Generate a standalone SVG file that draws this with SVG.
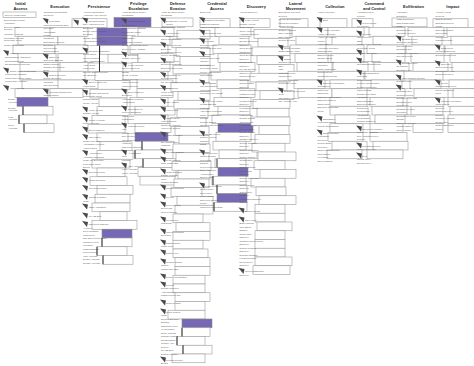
<svg xmlns="http://www.w3.org/2000/svg" xmlns:xlink="http://www.w3.org/1999/xlink" width="474" height="366" viewBox="0 0 474 366">
<style>
.b{fill:#fff;stroke:#9a9a9a;stroke-width:.6}
.p{fill:#7668b5;stroke:#8a8a8a;stroke-width:.6}
.t{font-family:"Liberation Sans",Arial,sans-serif;font-size:2.2px;fill:#555}
.h{font-family:"Liberation Sans",Arial,sans-serif;font-size:4px;font-weight:bold;fill:#222;text-anchor:middle}
.k{stroke:#333;stroke-width:1}
</style>
<defs><path id="tr" d="M0 0L6 1L5 6Z" fill="#4a4a4a"/></defs>
<rect width="474" height="366" fill="#fff"/>

<g id="col-initial-access">
<text class="h"><tspan x="20.5" y="5">Initial</tspan><tspan x="20.5" y="9.5">Access</tspan></text>
<rect class="b" x="3" y="12" width="33" height="5.5"/>
<rect class="b" x="15" y="27.5" width="40" height="8.75"/><rect class="b" x="18" y="36.25" width="40" height="8.75"/><rect class="b" x="13" y="45" width="42" height="8.75"/><rect class="b" x="18" y="53.75" width="38" height="8.75"/><rect class="b" x="20" y="62.5" width="38" height="8.75"/><rect class="b" x="20" y="71.25" width="40" height="8.75"/><rect class="b" x="22" y="80" width="37" height="8.75"/><rect class="b" x="15" y="88.75" width="33" height="8.75"/><rect class="p" x="17" y="97.5" width="31" height="8.75"/><rect class="b" x="23" y="106.25" width="30" height="8.75"/><rect class="b" x="19" y="115" width="28" height="8.75"/><rect class="b" x="24" y="123.75" width="30" height="8.75"/>
<text class="t"><tspan x="5" y="15.6">Drive-by Compromise</tspan><tspan x="4" y="21">Exploit Public-Facing</tspan><tspan x="4" y="23.8">Application</tspan><tspan x="4" y="27.5">External Remote</tspan><tspan x="4" y="30.3">Services</tspan><tspan x="4" y="34.5">Hardware Additions</tspan><tspan x="4" y="38.5">Replication Through</tspan><tspan x="4" y="41.3">Removable Media</tspan><tspan x="4" y="45.5">Trusted Relationship</tspan><tspan x="10" y="54">Phishing</tspan><tspan x="5" y="58">Spearphishing Attachment</tspan><tspan x="5" y="61.5">Spearphishing Link</tspan><tspan x="5" y="65">Spearphishing via Service</tspan><tspan x="10" y="71.5">Supply Chain Compromise</tspan><tspan x="5" y="75">Compromise Software</tspan><tspan x="5" y="78.5">Compromise Supply Chain</tspan><tspan x="5" y="82">Compromise Hardware</tspan><tspan x="10" y="89">Valid Accounts</tspan><tspan x="8" y="100">Default</tspan><tspan x="8" y="102.6">Accounts</tspan><tspan x="8" y="108.7">Domain</tspan><tspan x="8" y="111.3">Accounts</tspan><tspan x="8" y="117.5">Local</tspan><tspan x="8" y="120.1">Accounts</tspan><tspan x="8" y="126.2">Cloud</tspan><tspan x="8" y="128.8">Accounts</tspan></text>
<use href="#tr" x="3" y="50"/><use href="#tr" x="3" y="67.5"/><use href="#tr" x="3" y="85"/>
</g>

<g id="col-execution">
<text class="h"><tspan x="59.8" y="7.5">Execution</tspan></text>
<rect class="b" x="72" y="18.75" width="35" height="8.75"/>
<rect class="b" x="50" y="27.5" width="38" height="8.75"/><rect class="b" x="58" y="36.25" width="27" height="8.75"/><rect class="b" x="55" y="45" width="33" height="8.75"/><rect class="b" x="58" y="53.75" width="27" height="8.75"/><rect class="b" x="60" y="62.5" width="33" height="8.75"/><rect class="b" x="58" y="71.25" width="27" height="8.75"/><rect class="b" x="58" y="80" width="42" height="8.75"/><rect class="b" x="50" y="88.75" width="33" height="8.75"/>
<text class="t"><tspan x="43.5" y="12.5">Command and Scripting</tspan><tspan x="43.5" y="15.5">Interpreter</tspan><tspan x="49" y="22">PowerShell</tspan><tspan x="43.5" y="25.5">Windows Command Shell</tspan><tspan x="43.5" y="29">Unix Shell</tspan><tspan x="43.5" y="32.5">Visual Basic</tspan><tspan x="43.5" y="36">Python</tspan><tspan x="43.5" y="39">JavaScript</tspan><tspan x="43.5" y="42.5">Exploitation for Client</tspan><tspan x="43.5" y="45.5">Execution</tspan><tspan x="43.5" y="49">Inter-Process</tspan><tspan x="43.5" y="52">Communication</tspan><tspan x="49" y="57.5">Native API</tspan><tspan x="43.5" y="61">Scheduled Task/Job</tspan><tspan x="43.5" y="64.5">Shared Modules</tspan><tspan x="43.5" y="68">Software Deployment</tspan><tspan x="43.5" y="71">Tools</tspan><tspan x="49" y="75.5">System Services</tspan><tspan x="43.5" y="79">Service Execution</tspan><tspan x="43.5" y="82.5">Launchctl</tspan><tspan x="43.5" y="86">User Execution</tspan><tspan x="49" y="92.5">Windows Management</tspan><tspan x="43.5" y="95.5">Instrumentation</tspan></text>
<use href="#tr" x="42.5" y="18"/><use href="#tr" x="42.5" y="53.5"/><use href="#tr" x="42.5" y="71.5"/><use href="#tr" x="42.5" y="88.5"/><use href="#tr" x="73" y="19.5"/>
</g>

<g id="col-persistence">
<text class="h"><tspan x="99" y="7.5">Persistence</tspan></text>
<rect class="p" x="97" y="28" width="30" height="8.75"/><rect class="p" x="97" y="36.75" width="30" height="8.75"/><rect class="b" x="100" y="45.5" width="28" height="8.75"/><rect class="b" x="108" y="54.25" width="30" height="8.75"/><rect class="b" x="88" y="63" width="35" height="8.75"/><rect class="b" x="95" y="71.75" width="33" height="8.75"/><rect class="b" x="98" y="80.5" width="32" height="8.75"/><rect class="b" x="90" y="89.25" width="37" height="8.75"/><rect class="b" x="99" y="98" width="28" height="8.75"/><rect class="b" x="97" y="106.75" width="33" height="8.75"/><rect class="b" x="92" y="115.5" width="33" height="8.75"/><rect class="b" x="88" y="124.25" width="37" height="8.75"/><rect class="b" x="97" y="133" width="31" height="8.75"/><rect class="b" x="100" y="141.75" width="32" height="8.75"/><rect class="b" x="97" y="150.5" width="36" height="8.75"/><rect class="b" x="92" y="159.25" width="38" height="8.75"/><rect class="b" x="97" y="168" width="28" height="8.75"/><rect class="b" x="90" y="176.75" width="37" height="8.75"/><rect class="b" x="97" y="185.5" width="36" height="8.75"/><rect class="b" x="95" y="194.25" width="35" height="8.75"/><rect class="b" x="92" y="203" width="38" height="8.75"/><rect class="b" x="100" y="211.75" width="27" height="8.75"/><rect class="b" x="92" y="220.5" width="45" height="8.75"/><rect class="p" x="102" y="229.25" width="30" height="8.75"/><rect class="b" x="102" y="238" width="30" height="8.75"/><rect class="b" x="97" y="246.75" width="30" height="8.75"/><rect class="b" x="103" y="255.5" width="30" height="8.75"/>
<text class="t"><tspan x="83" y="12.5">Account Manipulation</tspan><tspan x="83" y="15.5">Additional Azure Service</tspan><tspan x="89" y="21.5">Exchange Email</tspan><tspan x="83" y="25">SSH Authorized Keys</tspan><tspan x="83" y="28.5">BITS Jobs</tspan><tspan x="83" y="32">Boot or Logon Autostart</tspan><tspan x="83" y="35">Execution</tspan><tspan x="83" y="38.5">Registry Run Keys</tspan><tspan x="83" y="42">Authentication Package</tspan><tspan x="83" y="45.5">Kernel Modules</tspan><tspan x="89" y="51.5">Shortcut Modification</tspan><tspan x="83" y="55">Port Monitors</tspan><tspan x="83" y="58.5">Print Processors</tspan><tspan x="83" y="62">XDG Autostart Entries</tspan><tspan x="83" y="65.5">Active Setup</tspan><tspan x="83" y="69">Login Items</tspan><tspan x="83" y="72.5">Security Support Provider</tspan><tspan x="83" y="76">LSASS Driver</tspan><tspan x="89" y="83">Boot or Logon Init</tspan><tspan x="83" y="86.5">Logon Script</tspan><tspan x="89" y="93.5">Browser Extensions</tspan><tspan x="83" y="97">Compromise Client</tspan><tspan x="83" y="100">Software Binary</tspan><tspan x="83" y="103.5">Create Account</tspan><tspan x="89" y="110.5">Local Account</tspan><tspan x="83" y="114">Domain Account</tspan><tspan x="89" y="120.5">Create or Modify</tspan><tspan x="83" y="124">System Process</tspan><tspan x="89" y="130.5">Event Triggered</tspan><tspan x="89" y="138">Screensaver</tspan><tspan x="83" y="141.5">Netsh Helper DLL</tspan><tspan x="83" y="145">Accessibility Features</tspan><tspan x="83" y="148.5">AppCert DLLs</tspan><tspan x="89" y="154">AppInit DLLs</tspan><tspan x="83" y="157.5">Application Shimming</tspan><tspan x="83" y="161">Image File Execution</tspan><tspan x="83" y="164.5">PowerShell Profile</tspan><tspan x="83" y="168">Emond</tspan><tspan x="89" y="173">External Remote</tspan><tspan x="89" y="181">Hijack Execution</tspan><tspan x="89" y="189">DLL Search Order</tspan><tspan x="89" y="198">Implant Container</tspan><tspan x="83" y="201.5">Image</tspan><tspan x="89" y="207.5">Office Application</tspan><tspan x="89" y="216.5">Pre-OS Boot</tspan><tspan x="89" y="225">Scheduled Task/Job</tspan><tspan x="83" y="228.5">At (Linux)</tspan><tspan x="83" y="232">Server Software</tspan><tspan x="83" y="235.5">Component</tspan><tspan x="83" y="239">SQL Stored Procedures</tspan><tspan x="83" y="242.5">Transport Agent</tspan><tspan x="83" y="246">Web Shell</tspan><tspan x="83" y="249.5">Traffic Signaling</tspan><tspan x="83" y="253">Port Knocking</tspan><tspan x="83" y="256.5">Valid Accounts</tspan><tspan x="83" y="260">Default Accounts</tspan><tspan x="83" y="263.5">Domain Accounts</tspan></text>
<use href="#tr" x="82" y="17.5"/><use href="#tr" x="82" y="47.5"/><use href="#tr" x="82" y="79"/><use href="#tr" x="82" y="89.5"/><use href="#tr" x="82" y="106.5"/><use href="#tr" x="82" y="116.5"/><use href="#tr" x="82" y="126.5"/><use href="#tr" x="82" y="134"/><use href="#tr" x="82" y="150"/><use href="#tr" x="82" y="169"/><use href="#tr" x="82" y="177"/><use href="#tr" x="82" y="185"/><use href="#tr" x="82" y="194"/><use href="#tr" x="82" y="203.5"/><use href="#tr" x="82" y="212.5"/><use href="#tr" x="82" y="221"/>
</g>

<g id="col-privilege-escalation">
<text class="h"><tspan x="138.4" y="5">Privilege</tspan><tspan x="138.4" y="9.5">Escalation</tspan></text>
<rect class="p" x="114" y="17.5" width="37" height="9.5"/>
<rect class="b" x="138" y="27.5" width="36" height="8.75"/><rect class="b" x="132" y="36.25" width="38" height="8.75"/><rect class="b" x="130" y="45" width="38" height="8.75"/><rect class="b" x="138" y="53.75" width="36" height="8.75"/><rect class="b" x="132" y="62.5" width="38" height="8.75"/><rect class="b" x="123" y="71.25" width="45" height="8.75"/><rect class="b" x="137" y="80" width="36" height="8.75"/><rect class="b" x="137" y="88.75" width="36" height="8.75"/><rect class="b" x="130" y="97.5" width="38" height="8.75"/><rect class="b" x="135" y="106.25" width="40" height="8.75"/><rect class="b" x="128" y="115" width="40" height="8.75"/><rect class="b" x="135" y="123.75" width="36" height="8.75"/><rect class="p" x="135" y="132.5" width="33" height="8.75"/><rect class="b" x="142" y="141.25" width="32" height="8.75"/><rect class="b" x="135" y="150" width="38" height="8.75"/><rect class="b" x="143" y="158.75" width="33" height="8.75"/><rect class="b" x="138" y="167.5" width="38" height="8.75"/><rect class="b" x="140" y="176.25" width="35" height="8.75"/>
<text class="t"><tspan x="122" y="12.5">Abuse Elevation Control</tspan><tspan x="122" y="15.5">Mechanism</tspan><tspan x="128" y="22">Setuid and Setgid</tspan><tspan x="122" y="25.5">Bypass UAC</tspan><tspan x="122" y="29">Sudo and Sudo Caching</tspan><tspan x="122" y="32.5">Elevated Execution</tspan><tspan x="122" y="36">Access Token</tspan><tspan x="122" y="39">Manipulation</tspan><tspan x="122" y="42.5">Token Impersonation</tspan><tspan x="122" y="46">Create Process with Token</tspan><tspan x="122" y="49.5">Boot or Logon Autostart</tspan><tspan x="128" y="55.5">Execution</tspan><tspan x="122" y="59">Registry Run Keys</tspan><tspan x="128" y="65.5">Kernel Modules</tspan><tspan x="122" y="69">Boot or Logon Init</tspan><tspan x="122" y="72.5">Scripts</tspan><tspan x="122" y="76">Create or Modify</tspan><tspan x="122" y="79.5">System Process</tspan><tspan x="122" y="83">Windows Service</tspan><tspan x="122" y="86.5">Launch Daemon</tspan><tspan x="128" y="92.5">Event Triggered</tspan><tspan x="122" y="96">Execution</tspan><tspan x="122" y="99.5">Accessibility Features</tspan><tspan x="122" y="103">AppInit DLLs</tspan><tspan x="128" y="109.5">Exploitation for</tspan><tspan x="122" y="113">Privilege Escalation</tspan><tspan x="122" y="116.5">Group Policy</tspan><tspan x="122" y="120">Modification</tspan><tspan x="128" y="126.5">Hijack Execution</tspan><tspan x="122" y="130">Flow</tspan><tspan x="122" y="133.5">Process Injection</tspan><tspan x="122" y="137">DLL Injection</tspan><tspan x="122" y="140.5">Thread Execution</tspan><tspan x="122" y="144">Hijacking</tspan><tspan x="122" y="147.5">Scheduled Task/Job</tspan><tspan x="128" y="153.5">At (Windows)</tspan><tspan x="122" y="157">Cron</tspan><tspan x="122" y="160.5">Launchd</tspan><tspan x="128" y="166.5">Valid Accounts</tspan><tspan x="122" y="170">Local Accounts</tspan><tspan x="122" y="173.5">Cloud Accounts</tspan></text>
<use href="#tr" x="121" y="18"/><use href="#tr" x="121" y="51.5"/><use href="#tr" x="121" y="61.5"/><use href="#tr" x="121" y="88.5"/><use href="#tr" x="121" y="105.5"/><use href="#tr" x="121" y="122.5"/><use href="#tr" x="121" y="149.5"/><use href="#tr" x="121" y="162.5"/>
</g>

<g id="col-defense-evasion">
<text class="h"><tspan x="177.7" y="5">Defense</tspan><tspan x="177.7" y="9.5">Evasion</tspan></text>
<rect class="b" x="162" y="18" width="31" height="8.75"/>
<rect class="b" x="177" y="30.25" width="33" height="8.75"/><rect class="b" x="172" y="39" width="36" height="8.75"/><rect class="b" x="176" y="47.75" width="34" height="8.75"/><rect class="b" x="180" y="56.5" width="30" height="8.75"/><rect class="b" x="173" y="65.25" width="37" height="8.75"/><rect class="b" x="176" y="74" width="33" height="8.75"/><rect class="b" x="171" y="82.75" width="39" height="8.75"/><rect class="b" x="178" y="91.5" width="32" height="8.75"/><rect class="b" x="174" y="100.25" width="35" height="8.75"/><rect class="b" x="177" y="109" width="31" height="8.75"/><rect class="b" x="170" y="117.75" width="36" height="8.75"/><rect class="b" x="175" y="126.5" width="34" height="8.75"/><rect class="b" x="179" y="135.25" width="30" height="8.75"/><rect class="b" x="173" y="144" width="37" height="8.75"/><rect class="b" x="176" y="152.75" width="33" height="8.75"/><rect class="b" x="172" y="161.5" width="39" height="8.75"/><rect class="b" x="178" y="170.25" width="32" height="8.75"/><rect class="b" x="174" y="179" width="35" height="8.75"/><rect class="b" x="171" y="187.75" width="31" height="8.75"/><rect class="b" x="177" y="196.5" width="36" height="8.75"/><rect class="b" x="175" y="205.25" width="38" height="8.75"/><rect class="b" x="173" y="214" width="30" height="8.75"/><rect class="b" x="176" y="222.75" width="34" height="8.75"/><rect class="b" x="173" y="231.5" width="37" height="8.75"/><rect class="b" x="173" y="240.25" width="30" height="8.75"/><rect class="b" x="173" y="249" width="35" height="8.75"/><rect class="b" x="175" y="257.75" width="35" height="8.75"/><rect class="b" x="175" y="266.5" width="35" height="8.75"/><rect class="b" x="173" y="275.25" width="32" height="8.75"/><rect class="b" x="173" y="284" width="32" height="8.75"/><rect class="b" x="175" y="292.75" width="35" height="8.75"/><rect class="b" x="175" y="301.5" width="30" height="8.75"/><rect class="b" x="168" y="310.25" width="37" height="8.75"/><rect class="p" x="182" y="319" width="30" height="8.75"/><rect class="b" x="182" y="327.75" width="28" height="8.75"/><rect class="b" x="177" y="336.5" width="28" height="8.75"/><rect class="b" x="183" y="345.25" width="29" height="8.75"/><rect class="b" x="172" y="354" width="33" height="8.75"/>
<text class="t"><tspan x="161" y="13">Abuse Elevation Control</tspan><tspan x="161" y="16">Mechanism</tspan><tspan x="166" y="21.5">Bypass User Account</tspan><tspan x="166" y="24.5">Control</tspan><tspan x="161" y="28">Sudo and Sudo Caching</tspan><tspan x="166" y="33.5">Access Token</tspan><tspan x="166" y="36.5">Manipulation</tspan><tspan x="161" y="40">Token Impersonation</tspan><tspan x="166" y="46">Create Process</tspan><tspan x="161" y="49.5">BITS Jobs</tspan><tspan x="161" y="53">Deobfuscate/Decode</tspan><tspan x="161" y="56">Files or Information</tspan><tspan x="166" y="61.5">Direct Volume</tspan><tspan x="161" y="65">Execution Guardrails</tspan><tspan x="161" y="68.5">Environmental Keying</tspan><tspan x="166" y="76">Exploitation for</tspan><tspan x="161" y="79">Defense Evasion</tspan><tspan x="161" y="82.5">File and Directory</tspan><tspan x="166" y="89">Permissions</tspan><tspan x="161" y="92.5">Group Policy</tspan><tspan x="161" y="95.5">Modification</tspan><tspan x="166" y="102.5">Hide Artifacts</tspan><tspan x="166" y="110.5">Hidden Files</tspan><tspan x="166" y="118.5">Hidden Users</tspan><tspan x="161" y="122">Hidden Window</tspan><tspan x="161" y="125.5">NTFS File Attributes</tspan><tspan x="161" y="129">Hidden File System</tspan><tspan x="166" y="135.5">Hijack Execution</tspan><tspan x="161" y="139">Flow</tspan><tspan x="161" y="142.5">DLL Search Order</tspan><tspan x="161" y="146">Hijacking</tspan><tspan x="166" y="152.5">DLL Side-Loading</tspan><tspan x="166" y="160.5">Dylib Hijacking</tspan><tspan x="161" y="164">COR_PROFILER</tspan><tspan x="166" y="172.5">Impair Defenses</tspan><tspan x="161" y="176">Disable or Modify</tspan><tspan x="161" y="179.5">Tools</tspan><tspan x="161" y="183">Indicator Blocking</tspan><tspan x="166" y="188.5">Indicator Removal</tspan><tspan x="166" y="197.5">on Host</tspan><tspan x="166" y="205.5">Clear Windows</tspan><tspan x="161" y="209">Event Logs</tspan><tspan x="161" y="212.5">Clear Command</tspan><tspan x="166" y="220.5">File Deletion</tspan><tspan x="161" y="224">Timestomp</tspan><tspan x="166" y="232.5">Indirect Command</tspan><tspan x="161" y="236">Execution</tspan><tspan x="166" y="243.5">Masquerading</tspan><tspan x="161" y="247">Invalid Code</tspan><tspan x="166" y="253.5">Right-to-Left</tspan><tspan x="166" y="262.5">Rename System</tspan><tspan x="161" y="266">Utilities</tspan><tspan x="161" y="269.5">Masquerade Task</tspan><tspan x="166" y="277.5">Modify Authentication</tspan><tspan x="166" y="285.5">Process</tspan><tspan x="161" y="289">Domain Controller</tspan><tspan x="161" y="292.5">Authentication</tspan><tspan x="161" y="296">Password Filter DLL</tspan><tspan x="166" y="303.5">Modify Registry</tspan><tspan x="166" y="312.5">Modify System</tspan><tspan x="161" y="316">Image</tspan><tspan x="161" y="319.5">Network Boundary</tspan><tspan x="161" y="323">Bridging</tspan><tspan x="161" y="326.5">Obfuscated Files</tspan><tspan x="161" y="330">or Information</tspan><tspan x="161" y="333.5">Binary Padding</tspan><tspan x="161" y="337">Software Packing</tspan><tspan x="161" y="340.5">Steganography</tspan><tspan x="161" y="344">Compile After</tspan><tspan x="161" y="347.5">Delivery</tspan><tspan x="161" y="351">Pre-OS Boot</tspan><tspan x="161" y="354.5">System Firmware</tspan><tspan x="166" y="360.5">Process Injection</tspan><tspan x="161" y="364">Bootkit</tspan></text>
<use href="#tr" x="160" y="17.5"/><use href="#tr" x="160" y="29.5"/><use href="#tr" x="160" y="42"/><use href="#tr" x="160" y="57.5"/><use href="#tr" x="160" y="72"/><use href="#tr" x="160" y="85"/><use href="#tr" x="160" y="98.5"/><use href="#tr" x="160" y="106.5"/><use href="#tr" x="160" y="114.5"/><use href="#tr" x="160" y="131.5"/><use href="#tr" x="160" y="148.5"/><use href="#tr" x="160" y="156.5"/><use href="#tr" x="160" y="168.5"/><use href="#tr" x="160" y="184.5"/><use href="#tr" x="160" y="193.5"/><use href="#tr" x="160" y="201.5"/><use href="#tr" x="160" y="216.5"/><use href="#tr" x="160" y="228.5"/><use href="#tr" x="160" y="239.5"/><use href="#tr" x="160" y="249.5"/><use href="#tr" x="160" y="258.5"/><use href="#tr" x="160" y="273.5"/><use href="#tr" x="160" y="281.5"/><use href="#tr" x="160" y="299.5"/><use href="#tr" x="160" y="308.5"/><use href="#tr" x="160" y="356.5"/>
</g>

<g id="col-credential-access">
<text class="h"><tspan x="217" y="5">Credential</tspan><tspan x="217" y="9.5">Access</tspan></text>
<rect class="b" x="200" y="18.75" width="30" height="8.75"/>
<rect class="b" x="215" y="27.5" width="36" height="8.75"/><rect class="b" x="219" y="36.25" width="30" height="8.75"/><rect class="b" x="213" y="45" width="38" height="8.75"/><rect class="b" x="218" y="53.75" width="33" height="8.75"/><rect class="b" x="220" y="62.5" width="35" height="8.75"/><rect class="b" x="211" y="71.25" width="40" height="8.75"/><rect class="b" x="217" y="80" width="31" height="8.75"/><rect class="b" x="221" y="88.75" width="34" height="8.75"/><rect class="b" x="214" y="97.5" width="37" height="8.75"/><rect class="b" x="218" y="106.25" width="32" height="8.75"/><rect class="b" x="212" y="115" width="39" height="8.75"/><rect class="p" x="218" y="123.75" width="35" height="8.75"/><rect class="b" x="216" y="132.5" width="35" height="8.75"/><rect class="b" x="213" y="141.25" width="33" height="8.75"/><rect class="b" x="219" y="150" width="38" height="8.75"/><rect class="b" x="215" y="158.75" width="31" height="8.75"/><rect class="p" x="218" y="167.5" width="30" height="8.75"/><rect class="b" x="212" y="176.25" width="34" height="8.75"/><rect class="b" x="217" y="185" width="30" height="8.75"/><rect class="p" x="217" y="193.75" width="30" height="8.75"/><rect class="b" x="214" y="202.5" width="33" height="8.75"/>
<text class="t"><tspan x="200" y="13">Brute Force</tspan><tspan x="205" y="21">Password Guessing</tspan><tspan x="200" y="24.5">Password Cracking</tspan><tspan x="200" y="28">Password Spraying</tspan><tspan x="205" y="33.5">Credentials from</tspan><tspan x="200" y="37">Password Stores</tspan><tspan x="205" y="42">Keychain</tspan><tspan x="200" y="45.5">Securityd Memory</tspan><tspan x="200" y="49">Credentials from Web</tspan><tspan x="205" y="55">Browsers</tspan><tspan x="200" y="58.5">Windows Credential</tspan><tspan x="200" y="62">Manager</tspan><tspan x="200" y="65.5">Exploitation for</tspan><tspan x="200" y="69">Credential Access</tspan><tspan x="200" y="72.5">Forced Authentication</tspan><tspan x="200" y="76">Input Capture</tspan><tspan x="205" y="83.5">Keylogging</tspan><tspan x="200" y="87">GUI Input Capture</tspan><tspan x="200" y="90.5">Web Portal Capture</tspan><tspan x="200" y="94">Credential API Hooking</tspan><tspan x="205" y="101.5">Man-in-the-Middle</tspan><tspan x="200" y="105">LLMNR/NBT-NS</tspan><tspan x="200" y="108.5">Poisoning</tspan><tspan x="200" y="112">ARP Cache Poisoning</tspan><tspan x="200" y="115.5">Modify Authentication</tspan><tspan x="200" y="119">Process</tspan><tspan x="200" y="122.5">Network Sniffing</tspan><tspan x="200" y="126">OS Credential Dumping</tspan><tspan x="205" y="134.5">LSASS Memory</tspan><tspan x="200" y="138">Security Account</tspan><tspan x="200" y="141.5">Manager</tspan><tspan x="200" y="145">NTDS</tspan><tspan x="205" y="153.5">LSA Secrets</tspan><tspan x="200" y="157">Cached Domain</tspan><tspan x="200" y="160.5">Credentials</tspan><tspan x="200" y="164">DCSync</tspan><tspan x="200" y="167.5">Proc Filesystem</tspan><tspan x="200" y="171">Steal Application</tspan><tspan x="200" y="174.5">Access Token</tspan><tspan x="200" y="178">Steal or Forge</tspan><tspan x="205" y="186.5">Kerberos Tickets</tspan><tspan x="200" y="190">Golden Ticket</tspan><tspan x="200" y="193.5">Silver Ticket</tspan><tspan x="200" y="197">Kerberoasting</tspan><tspan x="200" y="200.5">Steal Web Session</tspan><tspan x="200" y="204">Cookie</tspan><tspan x="200" y="207.5">Unsecured Credentials</tspan></text>
<use href="#tr" x="199" y="17"/><use href="#tr" x="199" y="29.5"/><use href="#tr" x="199" y="38"/><use href="#tr" x="199" y="51"/><use href="#tr" x="199" y="79.5"/><use href="#tr" x="199" y="97.5"/><use href="#tr" x="199" y="130.5"/><use href="#tr" x="199" y="149.5"/><use href="#tr" x="199" y="182.5"/>
</g>

<g id="col-discovery">
<text class="h"><tspan x="256.3" y="7.5">Discovery</tspan></text>
<rect class="b" x="240" y="18.75" width="30" height="8.75"/>
<rect class="b" x="254" y="29.5" width="36" height="8.75"/><rect class="b" x="258" y="38.25" width="30" height="8.75"/><rect class="b" x="252" y="47" width="38" height="8.75"/><rect class="b" x="257" y="55.75" width="33" height="8.75"/><rect class="b" x="259" y="64.5" width="35" height="8.75"/><rect class="b" x="250" y="73.25" width="40" height="8.75"/><rect class="b" x="256" y="82" width="31" height="8.75"/><rect class="b" x="260" y="90.75" width="34" height="8.75"/><rect class="b" x="253" y="99.5" width="37" height="8.75"/><rect class="b" x="257" y="108.25" width="32" height="8.75"/><rect class="b" x="251" y="117" width="39" height="8.75"/><rect class="b" x="259" y="125.75" width="30" height="8.75"/><rect class="b" x="255" y="134.5" width="35" height="8.75"/><rect class="b" x="252" y="143.25" width="33" height="8.75"/><rect class="b" x="258" y="152" width="38" height="8.75"/><rect class="b" x="254" y="160.75" width="31" height="8.75"/><rect class="b" x="260" y="169.5" width="36" height="8.75"/><rect class="b" x="251" y="178.25" width="34" height="8.75"/><rect class="b" x="256" y="187" width="30" height="8.75"/><rect class="b" x="259" y="195.75" width="37" height="8.75"/><rect class="b" x="255" y="204.5" width="30" height="8.75"/><rect class="b" x="255" y="213.25" width="30" height="8.75"/><rect class="b" x="257" y="222" width="35" height="8.75"/><rect class="b" x="255" y="230.75" width="30" height="8.75"/><rect class="b" x="255" y="239.5" width="30" height="8.75"/><rect class="b" x="255" y="248.25" width="30" height="8.75"/><rect class="b" x="255" y="257" width="37" height="8.75"/><rect class="b" x="253" y="265.75" width="37" height="8.75"/>
<text class="t"><tspan x="239.5" y="13">Account Discovery</tspan><tspan x="245" y="21">Local Account</tspan><tspan x="239.5" y="24.5">Domain Account</tspan><tspan x="239.5" y="28">Email Account</tspan><tspan x="239.5" y="31.5">Cloud Account</tspan><tspan x="239.5" y="35">Application Window</tspan><tspan x="239.5" y="38.5">Discovery</tspan><tspan x="239.5" y="42">Browser Bookmark</tspan><tspan x="239.5" y="45.5">Discovery</tspan><tspan x="239.5" y="49">Cloud Service</tspan><tspan x="239.5" y="52.5">Dashboard</tspan><tspan x="239.5" y="56">Cloud Service</tspan><tspan x="239.5" y="59.5">Discovery</tspan><tspan x="239.5" y="63">Domain Trust</tspan><tspan x="239.5" y="66.5">Discovery</tspan><tspan x="239.5" y="70">File and Directory</tspan><tspan x="239.5" y="73.5">Discovery</tspan><tspan x="239.5" y="77">Network Service</tspan><tspan x="239.5" y="80.5">Scanning</tspan><tspan x="239.5" y="84">Network Share</tspan><tspan x="239.5" y="87.5">Discovery</tspan><tspan x="239.5" y="91">Network Sniffing</tspan><tspan x="239.5" y="94.5">Password Policy</tspan><tspan x="239.5" y="98">Discovery</tspan><tspan x="239.5" y="101.5">Peripheral Device</tspan><tspan x="239.5" y="105">Discovery</tspan><tspan x="239.5" y="108.5">Permission Groups</tspan><tspan x="239.5" y="112">Discovery</tspan><tspan x="239.5" y="115.5">Local Groups</tspan><tspan x="239.5" y="119">Domain Groups</tspan><tspan x="239.5" y="122.5">Cloud Groups</tspan><tspan x="239.5" y="126">Process Discovery</tspan><tspan x="239.5" y="129.5">Query Registry</tspan><tspan x="239.5" y="133">Remote System</tspan><tspan x="239.5" y="136.5">Discovery</tspan><tspan x="239.5" y="140">Software Discovery</tspan><tspan x="239.5" y="143.5">Security Software</tspan><tspan x="239.5" y="147">Discovery</tspan><tspan x="239.5" y="150.5">System Information</tspan><tspan x="239.5" y="154">Discovery</tspan><tspan x="239.5" y="157.5">System Network</tspan><tspan x="239.5" y="161">Configuration</tspan><tspan x="239.5" y="164.5">Discovery</tspan><tspan x="239.5" y="168">System Network</tspan><tspan x="239.5" y="171.5">Connections</tspan><tspan x="239.5" y="175">Discovery</tspan><tspan x="239.5" y="178.5">System Owner/User</tspan><tspan x="239.5" y="182">Discovery</tspan><tspan x="239.5" y="185.5">System Service</tspan><tspan x="239.5" y="189">Discovery</tspan><tspan x="239.5" y="192.5">System Time</tspan><tspan x="239.5" y="196">Discovery</tspan><tspan x="239.5" y="199.5">Virtualization/Sandbox</tspan><tspan x="239.5" y="203">Evasion</tspan><tspan x="245" y="211.5">System Checks</tspan><tspan x="245" y="220.5">User Activity</tspan><tspan x="239.5" y="224">Based Checks</tspan><tspan x="239.5" y="227.5">Time Based</tspan><tspan x="239.5" y="231">Evasion</tspan><tspan x="239.5" y="234.5">Group Policy</tspan><tspan x="239.5" y="238">Discovery</tspan><tspan x="239.5" y="241.5">Container and Resource</tspan><tspan x="239.5" y="245">Discovery</tspan><tspan x="239.5" y="248.5">System Location</tspan><tspan x="239.5" y="252">Discovery</tspan><tspan x="239.5" y="255.5">Debugger Evasion</tspan><tspan x="239.5" y="259">Log Enumeration</tspan><tspan x="239.5" y="262.5">Device Driver</tspan><tspan x="239.5" y="266">Discovery</tspan><tspan x="245" y="272">Cloud Infrastructure</tspan><tspan x="239.5" y="275.5">Discovery</tspan></text>
<use href="#tr" x="238.5" y="17"/><use href="#tr" x="238.5" y="207.5"/><use href="#tr" x="238.5" y="216.5"/><use href="#tr" x="238.5" y="268"/>
</g>

<g id="col-lateral-movement">
<text class="h"><tspan x="295.6" y="5">Lateral</tspan><tspan x="295.6" y="9.5">Movement</tspan></text>
<rect class="b" x="280" y="18.75" width="28" height="8.75"/>
<rect class="b" x="292" y="27.5" width="36" height="8.75"/><rect class="b" x="296" y="36.25" width="30" height="8.75"/><rect class="b" x="290" y="45" width="38" height="8.75"/><rect class="b" x="295" y="53.75" width="33" height="8.75"/><rect class="b" x="297" y="62.5" width="35" height="8.75"/><rect class="b" x="288" y="71.25" width="40" height="8.75"/><rect class="b" x="294" y="80" width="31" height="8.75"/><rect class="b" x="298" y="88.75" width="34" height="8.75"/>
<text class="t"><tspan x="278.5" y="13">Exploitation of Remote</tspan><tspan x="278.5" y="16.5">Services</tspan><tspan x="278.5" y="20">Internal Spearphishing</tspan><tspan x="278.5" y="23.5">Lateral Tool Transfer</tspan><tspan x="278.5" y="27">Remote Service</tspan><tspan x="278.5" y="30.5">Session Hijacking</tspan><tspan x="278.5" y="34">SSH Hijacking</tspan><tspan x="278.5" y="37.5">RDP Hijacking</tspan><tspan x="278.5" y="41">Remote Services</tspan><tspan x="284" y="48.5">Remote Desktop</tspan><tspan x="278.5" y="52">SMB/Windows Admin</tspan><tspan x="284" y="59.5">Shares</tspan><tspan x="278.5" y="63">Distributed COM</tspan><tspan x="278.5" y="66.5">SSH</tspan><tspan x="278.5" y="70">VNC</tspan><tspan x="278.5" y="73.5">Windows Remote</tspan><tspan x="278.5" y="77">Management</tspan><tspan x="278.5" y="80.5">Replication Through</tspan><tspan x="278.5" y="84">Removable Media</tspan><tspan x="284" y="91.5">Software Deployment</tspan><tspan x="278.5" y="95">Tools</tspan><tspan x="278.5" y="98.5">Taint Shared Content</tspan><tspan x="278.5" y="102">Use Alternate Auth</tspan></text>
<use href="#tr" x="277.5" y="44.5"/><use href="#tr" x="277.5" y="55.5"/><use href="#tr" x="277.5" y="87.5"/>
</g>

<g id="col-collection">
<text class="h"><tspan x="334.9" y="7.5">Collection</tspan></text>
<rect class="b" x="320" y="18.75" width="27" height="8.75"/>
<rect class="b" x="328" y="27.5" width="36" height="8.75"/><rect class="b" x="332" y="36.25" width="30" height="8.75"/><rect class="b" x="326" y="45" width="38" height="8.75"/><rect class="b" x="331" y="53.75" width="33" height="8.75"/><rect class="b" x="333" y="62.5" width="35" height="8.75"/><rect class="b" x="324" y="71.25" width="40" height="8.75"/><rect class="b" x="330" y="80" width="31" height="8.75"/><rect class="b" x="332" y="88.75" width="36" height="8.75"/><rect class="b" x="330" y="97.5" width="37" height="8.75"/><rect class="b" x="330" y="106.25" width="38" height="8.75"/><rect class="b" x="335" y="115" width="35" height="8.75"/><rect class="b" x="330" y="123.75" width="33" height="8.75"/><rect class="b" x="328" y="132.5" width="35" height="8.75"/><rect class="b" x="332" y="141.25" width="35" height="8.75"/><rect class="b" x="327" y="150" width="35" height="8.75"/>
<text class="t"><tspan x="317.5" y="13">Archive Collected</tspan><tspan x="323" y="21">Data</tspan><tspan x="323" y="31">Archive via Utility</tspan><tspan x="317.5" y="34.5">Archive via Library</tspan><tspan x="317.5" y="38">Archive via Custom</tspan><tspan x="317.5" y="41.5">Method</tspan><tspan x="317.5" y="45">Audio Capture</tspan><tspan x="317.5" y="48.5">Automated Collection</tspan><tspan x="317.5" y="52">Clipboard Data</tspan><tspan x="317.5" y="55.5">Data from Cloud</tspan><tspan x="317.5" y="59">Storage Object</tspan><tspan x="317.5" y="62.5">Data from Config</tspan><tspan x="317.5" y="66">Repository</tspan><tspan x="317.5" y="69.5">SNMP (MIB Dump)</tspan><tspan x="317.5" y="73">Network Device</tspan><tspan x="317.5" y="76.5">Configuration Dump</tspan><tspan x="323" y="83.5">Data from Information</tspan><tspan x="317.5" y="87">Repositories</tspan><tspan x="317.5" y="90.5">Confluence</tspan><tspan x="317.5" y="94">Sharepoint</tspan><tspan x="317.5" y="97.5">Data from Local System</tspan><tspan x="317.5" y="101">Data from Network</tspan><tspan x="317.5" y="104.5">Shared Drive</tspan><tspan x="317.5" y="108">Data from Removable</tspan><tspan x="317.5" y="111.5">Media</tspan><tspan x="323" y="119.5">Data Staged</tspan><tspan x="317.5" y="123">Local Data Staging</tspan><tspan x="317.5" y="126.5">Remote Data Staging</tspan><tspan x="323" y="133.5">Email Collection</tspan><tspan x="317.5" y="137">Local Email</tspan><tspan x="317.5" y="140.5">Collection</tspan><tspan x="317.5" y="144">Remote Email</tspan><tspan x="317.5" y="147.5">Collection</tspan><tspan x="317.5" y="151">Email Forwarding Rule</tspan><tspan x="317.5" y="154.5">Input Capture</tspan><tspan x="317.5" y="158">Keylogging</tspan><tspan x="317.5" y="161.5">Screen Capture</tspan></text>
<use href="#tr" x="316.5" y="17"/><use href="#tr" x="316.5" y="27"/><use href="#tr" x="316.5" y="79.5"/><use href="#tr" x="316.5" y="115.5"/><use href="#tr" x="316.5" y="129.5"/>
</g>

<g id="col-command-and-control">
<text class="h"><tspan x="374.2" y="5">Command</tspan><tspan x="374.2" y="9.5">and Control</tspan></text>
<rect class="b" x="352" y="18.75" width="21" height="8.75"/>
<rect class="b" x="369" y="27.5" width="36" height="8.75"/><rect class="b" x="373" y="36.25" width="30" height="8.75"/><rect class="b" x="367" y="45" width="38" height="8.75"/><rect class="b" x="372" y="53.75" width="33" height="8.75"/><rect class="b" x="374" y="62.5" width="35" height="8.75"/><rect class="b" x="365" y="71.25" width="40" height="8.75"/><rect class="b" x="371" y="80" width="31" height="8.75"/><rect class="b" x="367" y="88.75" width="38" height="8.75"/><rect class="b" x="370" y="97.5" width="33" height="8.75"/><rect class="b" x="372" y="106.25" width="35" height="8.75"/><rect class="b" x="375" y="115" width="35" height="8.75"/><rect class="b" x="370" y="123.75" width="33" height="8.75"/><rect class="b" x="370" y="132.5" width="37" height="8.75"/><rect class="b" x="373" y="141.25" width="35" height="8.75"/><rect class="b" x="367" y="150" width="36" height="8.75"/>
<text class="t"><tspan x="357" y="13">Application Layer</tspan><tspan x="357" y="16.5">Protocol</tspan><tspan x="362" y="23.5">Web Protocols</tspan><tspan x="357" y="27">File Transfer</tspan><tspan x="362" y="34.5">Protocols</tspan><tspan x="357" y="38">Mail Protocols</tspan><tspan x="357" y="41.5">DNS</tspan><tspan x="357" y="45">Communication Through</tspan><tspan x="357" y="48.5">Removable Media</tspan><tspan x="362" y="53.5">Data Encoding</tspan><tspan x="362" y="61.5">Standard Encoding</tspan><tspan x="357" y="65">Non-Standard Encoding</tspan><tspan x="362" y="73.5">Data Obfuscation</tspan><tspan x="357" y="77">Junk Data</tspan><tspan x="357" y="80.5">Steganography</tspan><tspan x="357" y="84">Protocol Impersonation</tspan><tspan x="357" y="87.5">Dynamic Resolution</tspan><tspan x="357" y="91">Fast Flux DNS</tspan><tspan x="357" y="94.5">Domain Generation</tspan><tspan x="357" y="98">Algorithms</tspan><tspan x="357" y="101.5">DNS Calculation</tspan><tspan x="357" y="105">Encrypted Channel</tspan><tspan x="357" y="108.5">Symmetric</tspan><tspan x="357" y="112">Cryptography</tspan><tspan x="357" y="115.5">Asymmetric</tspan><tspan x="357" y="119">Cryptography</tspan><tspan x="357" y="122">Fallback Channels</tspan><tspan x="362" y="129.5">Ingress Tool Transfer</tspan><tspan x="357" y="133">Multi-Stage Channels</tspan><tspan x="357" y="136.5">Non-Application Layer</tspan><tspan x="357" y="140">Protocol</tspan><tspan x="362" y="146.5">Non-Standard Port</tspan><tspan x="357" y="150">Protocol Tunneling</tspan><tspan x="362" y="156.5">Proxy</tspan><tspan x="357" y="160">Internal Proxy</tspan><tspan x="357" y="163.5">External Proxy</tspan></text>
<use href="#tr" x="356" y="19.5"/><use href="#tr" x="356" y="30.5"/><use href="#tr" x="356" y="49.5"/><use href="#tr" x="356" y="57.5"/><use href="#tr" x="356" y="69.5"/><use href="#tr" x="356" y="125.5"/><use href="#tr" x="356" y="142.5"/><use href="#tr" x="356" y="152.5"/>
</g>

<g id="col-exfiltration">
<text class="h"><tspan x="413.5" y="7.5">Exfiltration</tspan></text>
<rect class="b" x="392" y="18" width="35" height="8.75"/>
<rect class="b" x="408" y="27.5" width="36" height="8.75"/><rect class="b" x="412" y="36.25" width="30" height="8.75"/><rect class="b" x="406" y="45" width="38" height="8.75"/><rect class="b" x="411" y="53.75" width="33" height="8.75"/><rect class="b" x="413" y="62.5" width="35" height="8.75"/><rect class="b" x="404" y="71.25" width="40" height="8.75"/><rect class="b" x="410" y="80" width="31" height="8.75"/><rect class="b" x="414" y="88.75" width="34" height="8.75"/><rect class="b" x="407" y="97.5" width="37" height="8.75"/><rect class="b" x="411" y="106.25" width="32" height="8.75"/><rect class="b" x="405" y="115" width="39" height="8.75"/><rect class="b" x="413" y="123.75" width="30" height="8.75"/>
<text class="t"><tspan x="396.5" y="13">Automated</tspan><tspan x="396.5" y="16.5">Exfiltration</tspan><tspan x="396.5" y="20">Traffic Duplication</tspan><tspan x="396.5" y="23.5">Data Transfer Size</tspan><tspan x="396.5" y="27">Limits</tspan><tspan x="396.5" y="30.5">Exfiltration Over</tspan><tspan x="396.5" y="34">Alternative Protocol</tspan><tspan x="402" y="39.5">Exfiltration Over</tspan><tspan x="396.5" y="43">Symmetric Encrypted</tspan><tspan x="396.5" y="46.5">Non-C2 Protocol</tspan><tspan x="396.5" y="50">Exfiltration Over</tspan><tspan x="396.5" y="53.5">Asymmetric Encrypted</tspan><tspan x="396.5" y="57">Non-C2 Protocol</tspan><tspan x="402" y="63.5">Exfiltration Over</tspan><tspan x="396.5" y="67">C2 Channel</tspan><tspan x="396.5" y="70.5">Exfiltration Over</tspan><tspan x="402" y="78.5">Other Network Medium</tspan><tspan x="396.5" y="82">Exfiltration Over</tspan><tspan x="402" y="88.5">Bluetooth</tspan><tspan x="396.5" y="92">Exfiltration Over</tspan><tspan x="396.5" y="95.5">Physical Medium</tspan><tspan x="396.5" y="99">Exfiltration over USB</tspan><tspan x="396.5" y="102.5">Exfiltration Over</tspan><tspan x="396.5" y="106">Web Service</tspan><tspan x="396.5" y="109.5">Exfiltration to Code</tspan><tspan x="396.5" y="113">Repository</tspan><tspan x="396.5" y="116.5">Exfiltration to Cloud</tspan><tspan x="396.5" y="120">Storage</tspan><tspan x="396.5" y="123.5">Scheduled Transfer</tspan><tspan x="396.5" y="127">Transfer Data to</tspan><tspan x="396.5" y="130.5">Cloud Account</tspan></text>
<use href="#tr" x="395.5" y="35.5"/><use href="#tr" x="395.5" y="59.5"/><use href="#tr" x="395.5" y="74.5"/><use href="#tr" x="395.5" y="84.5"/>
</g>

<g id="col-impact">
<text class="h"><tspan x="452.8" y="7.5">Impact</tspan></text>
<rect class="b" x="433" y="18.75" width="35" height="8.75"/>
<rect class="b" x="447" y="27.5" width="30" height="8.75"/><rect class="b" x="451" y="36.25" width="28" height="8.75"/><rect class="b" x="445" y="45" width="30" height="8.75"/><rect class="b" x="450" y="53.75" width="30" height="8.75"/><rect class="b" x="452" y="62.5" width="28" height="8.75"/><rect class="b" x="443" y="71.25" width="32" height="8.75"/><rect class="b" x="449" y="80" width="30" height="8.75"/><rect class="b" x="453" y="88.75" width="28" height="8.75"/><rect class="b" x="448" y="97.5" width="30" height="8.75"/><rect class="b" x="450" y="106.25" width="30" height="8.75"/><rect class="b" x="448" y="115" width="30" height="8.75"/><rect class="b" x="448" y="123.75" width="30" height="8.75"/>
<text class="t"><tspan x="435.5" y="13">Account Access</tspan><tspan x="435.5" y="16.5">Removal</tspan><tspan x="435.5" y="20">Data Destruction</tspan><tspan x="435.5" y="23.5">Data Encrypted for</tspan><tspan x="435.5" y="27">Impact</tspan><tspan x="435.5" y="30.5">Data Manipulation</tspan><tspan x="435.5" y="34">Stored Data</tspan><tspan x="435.5" y="37.5">Manipulation</tspan><tspan x="435.5" y="41">Transmitted Data</tspan><tspan x="441" y="48.5">Defacement</tspan><tspan x="435.5" y="52">Internal Defacement</tspan><tspan x="435.5" y="55.5">External Defacement</tspan><tspan x="441" y="64.5">Disk Wipe</tspan><tspan x="435.5" y="68">Disk Content Wipe</tspan><tspan x="435.5" y="71.5">Disk Structure Wipe</tspan><tspan x="435.5" y="75">Endpoint Denial of</tspan><tspan x="441" y="83.5">Service</tspan><tspan x="435.5" y="87">OS Exhaustion Flood</tspan><tspan x="435.5" y="90.5">Service Exhaustion</tspan><tspan x="435.5" y="94">Flood</tspan><tspan x="441" y="101.5">Firmware Corruption</tspan><tspan x="435.5" y="105">Inhibit System</tspan><tspan x="435.5" y="108.5">Recovery</tspan><tspan x="435.5" y="112">Network Denial of</tspan><tspan x="435.5" y="115.5">Service</tspan><tspan x="435.5" y="119">Resource Hijacking</tspan><tspan x="435.5" y="122.5">Service Stop</tspan><tspan x="435.5" y="126">System Shutdown/</tspan><tspan x="435.5" y="129.5">Reboot</tspan></text>
<use href="#tr" x="434.5" y="44.5"/><use href="#tr" x="434.5" y="60.5"/><use href="#tr" x="434.5" y="79.5"/><use href="#tr" x="434.5" y="97.5"/>
</g>

<g id="connectors">
<line class="k" x1="23" y1="106.25" x2="23" y2="115"/><line class="k" x1="19" y1="115" x2="19" y2="123.75"/><line class="k" x1="24" y1="123.75" x2="24" y2="132.5"/>
<line class="k" x1="99.5" y1="45.5" x2="99.5" y2="71.75"/><line class="k" x1="102" y1="238" x2="102" y2="246.75"/><line class="k" x1="97" y1="246.75" x2="97" y2="255.5"/><line class="k" x1="103" y1="255.5" x2="103" y2="264.25"/>
<line class="k" x1="142" y1="141.25" x2="142" y2="150"/><line class="k" x1="135" y1="150" x2="135" y2="158.75"/><line class="k" x1="143" y1="158.75" x2="143" y2="167.5"/>
<line class="k" x1="182" y1="327.75" x2="182" y2="336.5"/><line class="k" x1="177" y1="336.5" x2="177" y2="345.25"/><line class="k" x1="183" y1="345.25" x2="183" y2="354"/>
<line class="k" x1="217" y1="158.75" x2="217" y2="167.5"/><line class="k" x1="213" y1="176.25" x2="213" y2="185"/><line class="k" x1="217" y1="185" x2="217" y2="193.75"/><line class="k" x1="214" y1="202.5" x2="214" y2="211.25"/>
</g>
</svg>
